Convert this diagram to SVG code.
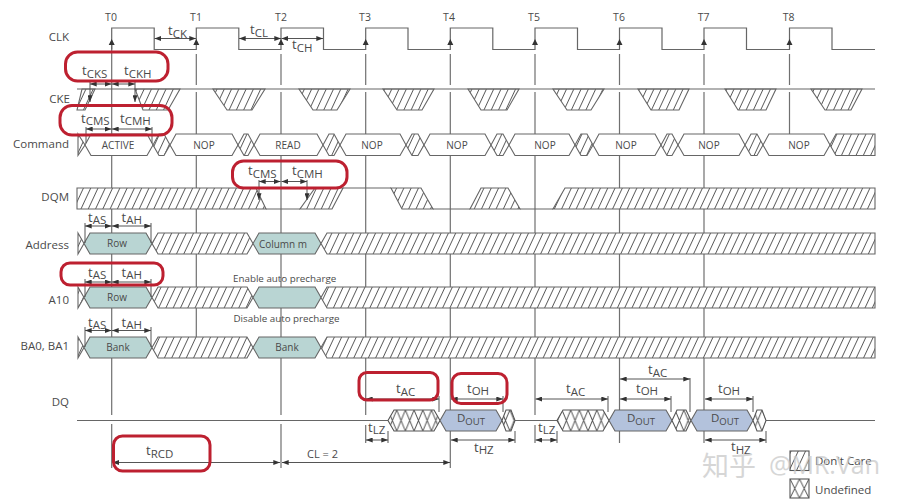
<svg xmlns="http://www.w3.org/2000/svg" width="906" height="501" viewBox="0 0 906 501">
<style>
text{font-family:"Open Sans","Noto Sans","Liberation Sans",sans-serif;fill:#4a4a4a}
.l{font-size:11.5px;text-anchor:end}
.c{font-size:10.5px;text-anchor:middle}
.h{font-size:10px;text-anchor:middle}
.n{font-size:9.8px}
.d{font-size:13px}
.s{font-size:11.5px}
.w{fill:none;stroke:#666;stroke-width:1.2}
.v{fill:none;stroke:#707070;stroke-width:1.2}
.a{fill:none;stroke:#555;stroke-width:1}
.x{fill:url(#hatch);stroke:#666;stroke-width:1.1}
.o{fill:#fff;stroke:#666;stroke-width:1.1}
.b{fill:#b9d5d3;stroke:#666;stroke-width:1.1}
.q{fill:#b3c2dc;stroke:#666;stroke-width:1.1}
.u{fill:url(#cross);stroke:#555;stroke-width:1.1}
.r{fill:none;stroke:#bd2030;stroke-width:3}
.k{fill:#333}
</style>
<defs>
<pattern id="hatch" patternUnits="userSpaceOnUse" width="6.6" height="10" patternTransform="rotate(25)"><rect width="6.6" height="10" fill="#fff"/><line x1="3.3" y1="0" x2="3.3" y2="10" stroke="#5c5c5c" stroke-width="1"/></pattern>
<pattern id="cross" patternUnits="userSpaceOnUse" width="8.7" height="21" patternTransform="translate(388 410)"><rect width="8.7" height="21" fill="#fff"/><path d="M0 0L8.7 21M8.7 0L0 21" stroke="#555" stroke-width="1" fill="none"/></pattern>
<pattern id="cross2" patternUnits="userSpaceOnUse" width="9.5" height="19" patternTransform="translate(790 479)"><rect width="9.5" height="19" fill="#fff"/><path d="M0 0L9.5 19M9.5 0L0 19" stroke="#555" stroke-width="1" fill="none"/></pattern>
<marker id="ae" viewBox="0 0 8 6" refX="8" refY="3" markerWidth="7" markerHeight="5" markerUnits="userSpaceOnUse" orient="auto"><path d="M0 0L8 3L0 6Z" fill="#333"/></marker>
<marker id="as" viewBox="0 0 8 6" refX="0" refY="3" markerWidth="7" markerHeight="5" markerUnits="userSpaceOnUse" orient="auto"><path d="M8 0L0 3L8 6Z" fill="#333"/></marker>
</defs>
<rect width="906" height="501" fill="#fff"/>

<g id="grid-lines">
<path class="v" d="M111.7 45V415M111.7 424V468"/>
<path class="v" d="M196.3 54V85M196.3 92V337"/>
<path class="v" d="M281 54V85M281 92V415M281 424V468"/>
<path class="v" d="M365.7 54V85M365.7 92V415M365.7 425V443"/>
<path class="v" d="M450.3 54V85M450.3 92V410M450.3 431V468"/>
<path class="v" d="M535 54V85M535 92V415M535 425V443"/>
<path class="v" d="M619.5 54V85M619.5 92V410M619.5 431V443"/>
<path class="v" d="M704 54V85M704 92V410M704 431V443"/>
<path class="v" d="M789.5 54V85M789.5 92V134"/>
</g>

<g id="time-labels">
<text class="c" x="111" y="21">T0</text><text class="c" x="196" y="21">T1</text><text class="c" x="281" y="21">T2</text><text class="c" x="365" y="21">T3</text><text class="c" x="449" y="21">T4</text><text class="c" x="534" y="21">T5</text><text class="c" x="619" y="21">T6</text><text class="c" x="703.7" y="21">T7</text><text class="c" x="788.6" y="21">T8</text>
</g>

<g id="clk">
<text class="l" x="69" y="41">CLK</text>
<path class="w" d="M111.7 49.5V28H154.2V49.5H196.3V28H238.8V49.5H281V28H323.5V49.5H365.7V28H408V49.5H450.3V28H492.8V49.5H535V28H577.5V49.5H619.5V28H662V49.5H704V28H746.5V49.5H789.5V28H832V49.5H875"/>
<path class="k" d="M111.7 39l3 6h-6zM196.3 39l3 6h-6zM281 39l3 6h-6zM365.7 39l3 6h-6zM450.3 39l3 6h-6zM535 39l3 6h-6zM619.5 39l3 6h-6zM704 39l3 6h-6zM789.5 39l3 6h-6z"/>
</g>

<g id="cke">
<text class="l" x="70" y="103">CKE</text>
<polygon class="x" points="82,89 95,89 85,110 77,110"/>
<polygon class="x" points="135,89 180,89 168,110 143,110"/>
<polygon class="x" points="213,89 265,89 252,110 227,110"/>
<polygon class="x" points="299,89 350,89 337,110 313,110"/>
<polygon class="x" points="383,89 434,89 422,110 397,110"/>
<polygon class="x" points="468,89 519,89 507,110 481,110"/>
<polygon class="x" points="553,89 604,89 591,110 567,110"/>
<polygon class="x" points="638,89 689,89 679,110 651,110"/>
<polygon class="x" points="725,89 776,89 766,110 738,110"/>
<polygon class="x" points="811,89 862,89 851,110 825,110"/>
<line class="w" x1="77" y1="89" x2="875" y2="89"/>
</g>

<g id="command">
<text class="l" x="69" y="148">Command</text>
<polygon class="x" points="78,134 85,145 78,155.5"/>
<polygon class="o" points="85,145 91,134 147,134 153,145 147,155.5 91,155.5"/>
<polygon class="x" points="153,145 159,134 164,134 170,145 164,155.5 159,155.5"/>
<polygon class="o" points="170,145 176,134 232,134 238,145 232,155.5 176,155.5"/>
<polygon class="x" points="238,145 244,134 248,134 254,145 248,155.5 244,155.5"/>
<polygon class="o" points="254,145 260,134 317,134 323,145 317,155.5 260,155.5"/>
<polygon class="x" points="323,145 329,134 334,134 340,145 334,155.5 329,155.5"/>
<polygon class="o" points="340,145 346,134 400,134 406,145 400,155.5 346,155.5"/>
<polygon class="x" points="406,145 412,134 418,134 424,145 418,155.5 412,155.5"/>
<polygon class="o" points="424,145 430,134 485,134 491,145 485,155.5 430,155.5"/>
<polygon class="x" points="491,145 497,134 503,134 509,145 503,155.5 497,155.5"/>
<polygon class="o" points="509,145 515,134 569,134 575,145 569,155.5 515,155.5"/>
<polygon class="x" points="575,145 581,134 587,134 593,145 587,155.5 581,155.5"/>
<polygon class="o" points="593,145 599,134 655,134 661,145 655,155.5 599,155.5"/>
<polygon class="x" points="661,145 667,134 672,134 678,145 672,155.5 667,155.5"/>
<polygon class="o" points="678,145 684,134 739,134 745,145 739,155.5 684,155.5"/>
<polygon class="x" points="745,145 751,134 757,134 763,145 757,155.5 751,155.5"/>
<polygon class="o" points="763,145 769,134 824,134 830,145 824,155.5 769,155.5"/>
<polygon class="x" points="830,145 836,134 875,134 875,155.5 836,155.5"/>
<text class="h" x="118" y="149">ACTIVE</text><text class="h" x="204" y="149">NOP</text><text class="h" x="288" y="149">READ</text><text class="h" x="372" y="149">NOP</text><text class="h" x="457" y="149">NOP</text><text class="h" x="545" y="149">NOP</text><text class="h" x="626" y="149">NOP</text><text class="h" x="709" y="149">NOP</text><text class="h" x="799" y="149">NOP</text>
</g>

<g id="dqm">
<text class="l" x="69" y="201">DQM</text>
<polygon class="x" points="77,188 256,188 266,209 77,209"/>
<polygon class="x" points="315,188 343,188 332,209 300,209"/>
<polygon class="x" points="391,188 421,188 433,209 402,209"/>
<polygon class="x" points="481,188 508,188 520,209 470,209"/>
<polygon class="x" points="565,188 875,188 875,209 553,209"/>
<path class="w" d="M343 188H391M266 209H300M433 209H470M520 209H553"/>
</g>

<g id="address">
<text class="l" x="69" y="249">Address</text>
<polygon class="x" points="78,233 84,243.5 78,254"/>
<polygon class="b" points="84,243.5 90,233 146,233 152,243.5 146,254 90,254"/>
<polygon class="x" points="152,243.5 158,233 247,233 253,243.5 247,254 158,254"/>
<polygon class="b" points="253,243.5 259,233 315,233 321,243.5 315,254 259,254"/>
<polygon class="x" points="321,243.5 327,233 875,233 875,254 327,254"/>
<text class="h" x="117" y="247">Row</text><text class="h" x="283" y="248">Column m</text>
</g>

<g id="a10">
<text class="l" x="69" y="304">A10</text>
<polygon class="x" points="78,287 84,297.5 78,308"/>
<polygon class="b" points="84,297.5 90,287 146,287 152,297.5 146,308 90,308"/>
<polygon class="x" points="152,297.5 158,287 247,287 253,297.5 247,308 158,308"/>
<polygon class="b" points="253,297.5 259,287 315,287 321,297.5 315,308 259,308"/>
<polygon class="x" points="321,297.5 327,287 875,287 875,308 327,308"/>
<text class="h" x="117" y="301">Row</text>
<text class="n" x="233" y="282">Enable auto precharge</text>
<text class="n" x="233.5" y="322">Disable auto precharge</text>
</g>

<g id="ba">
<text class="l" x="69" y="350">BA0, BA1</text>
<polygon class="x" points="78,337 84,347.5 78,358"/>
<polygon class="b" points="84,347.5 90,337 146,337 152,347.5 146,358 90,358"/>
<polygon class="x" points="152,347.5 158,337 247,337 253,347.5 247,358 158,358"/>
<polygon class="b" points="253,347.5 259,337 315,337 321,347.5 315,358 259,358"/>
<polygon class="x" points="321,347.5 327,337 875,337 875,358 327,358"/>
<text class="h" x="118" y="351">Bank</text><text class="h" x="287" y="351">Bank</text>
</g>

<g id="dq">
<text class="l" x="69" y="406">DQ</text>
<path class="w" d="M77 420.5H388M515 420.5H557M766 420.5H875"/>
<polygon class="u" points="388,420.5 394,410 434,410 440,420.5 434,431 394,431"/>
<polygon class="q" points="440,420.5 446,410 496,410 502,420.5 496,431 446,431"/>
<polygon class="u" points="502,420.5 506,410 511,410 515,420.5 511,431 506,431"/>
<polygon class="u" points="557,420.5 563,410 603,410 609,420.5 603,431 563,431"/>
<polygon class="q" points="609,420.5 615,410 666,410 672,420.5 666,431 615,431"/>
<polygon class="u" points="672,420.5 677,410 686,410 691,420.5 686,431 677,431"/>
<polygon class="q" points="691,420.5 697,410 747,410 753,420.5 747,431 697,431"/>
<polygon class="u" points="753,420.5 757,410 762,410 766,420.5 762,431 757,431"/>
<text x="457" y="422" font-size="11.5">D<tspan font-size="9.5" dy="2.5">OUT</tspan></text>
<text x="627" y="422" font-size="11.5">D<tspan font-size="9.5" dy="2.5">OUT</tspan></text>
<text x="711" y="422" font-size="11.5">D<tspan font-size="9.5" dy="2.5">OUT</tspan></text>
</g>

<g id="connectors">
<g class="a">
<path d="M154.5 38.5H196" marker-start="url(#as)" marker-end="url(#ae)"/>
<path d="M239 38.5H281" marker-start="url(#as)" marker-end="url(#ae)"/>
<path d="M281.5 38.5H323" marker-start="url(#as)" marker-end="url(#ae)"/>
<path d="M90 84H111.5" marker-start="url(#as)" marker-end="url(#ae)"/>
<path d="M112 84H135" marker-start="url(#as)" marker-end="url(#ae)"/>
<path d="M90 82V102" marker-end="url(#ae)"/>
<path d="M135 82V102" marker-end="url(#ae)"/>
<path d="M86 129H111.5" marker-start="url(#as)" marker-end="url(#ae)"/>
<path d="M112 129H152" marker-start="url(#as)" marker-end="url(#ae)"/>
<path d="M86 127V143M152 127V143"/>
<path d="M259 181.5H280.5" marker-start="url(#as)" marker-end="url(#ae)"/>
<path d="M281.5 181.5H307" marker-start="url(#as)" marker-end="url(#ae)"/>
<path d="M259 180V200" marker-end="url(#ae)"/>
<path d="M307 180V200" marker-end="url(#ae)"/>
<path d="M85 226H111.5" marker-start="url(#as)" marker-end="url(#ae)"/>
<path d="M112 226H151" marker-start="url(#as)" marker-end="url(#ae)"/>
<path d="M85 223V243M151 223V243"/>
<path d="M85 282H111.5" marker-start="url(#as)" marker-end="url(#ae)"/>
<path d="M112 282H151" marker-start="url(#as)" marker-end="url(#ae)"/>
<path d="M85 279V297M151 279V297"/>
<path d="M85 330.5H111.5" marker-start="url(#as)" marker-end="url(#ae)"/>
<path d="M112 330.5H151" marker-start="url(#as)" marker-end="url(#ae)"/>
<path d="M85 327V347M151 327V347"/>
<path d="M366 399H439" marker-start="url(#as)" marker-end="url(#ae)"/>
<path d="M439 396V412"/>
<path d="M451 399H503" marker-start="url(#as)" marker-end="url(#ae)"/>
<path d="M503 396V412"/>
<path d="M366 440H388" marker-start="url(#as)" marker-end="url(#ae)"/>
<path d="M388 431V443"/>
<path d="M451 440H515" marker-start="url(#as)" marker-end="url(#ae)"/>
<path d="M515 431V443"/>
<path d="M535.5 399H608" marker-start="url(#as)" marker-end="url(#ae)"/>
<path d="M608 396V412"/>
<path d="M535.5 440H557" marker-start="url(#as)" marker-end="url(#ae)"/>
<path d="M557 431V443"/>
<path d="M620 379H690" marker-start="url(#as)" marker-end="url(#ae)"/>
<path d="M690 378V412"/>
<path d="M620 399H671" marker-start="url(#as)" marker-end="url(#ae)"/>
<path d="M671 396V412"/>
<path d="M705 399H753" marker-start="url(#as)" marker-end="url(#ae)"/>
<path d="M753 396V412"/>
<path d="M705 440H766" marker-start="url(#as)" marker-end="url(#ae)"/>
<path d="M766 431V443"/>
<path d="M112.5 462.5H280" marker-start="url(#as)" marker-end="url(#ae)"/>
<path d="M282 462.5H450" marker-start="url(#as)" marker-end="url(#ae)"/>
</g>
</g>

<g id="timing-labels">
<text class="d" x="168" y="35">t<tspan class="s" dy="2.5">CK</tspan></text>
<text class="d" x="250" y="34">t<tspan class="s" dy="2.5">CL</tspan></text>
<text class="d" x="292" y="49">t<tspan class="s" dy="2.5">CH</tspan></text>
<text class="d" x="82" y="75">t<tspan class="s" dy="2.5">CKS</tspan></text>
<text class="d" x="124" y="75">t<tspan class="s" dy="2.5">CKH</tspan></text>
<text class="d" x="81" y="122.5">t<tspan class="s" dy="2.5">CMS</tspan></text>
<text class="d" x="120" y="122.5">t<tspan class="s" dy="2.5">CMH</tspan></text>
<text class="d" x="248" y="175">t<tspan class="s" dy="2.5">CMS</tspan></text>
<text class="d" x="292" y="175">t<tspan class="s" dy="2.5">CMH</tspan></text>
<text class="d" x="88" y="221.5">t<tspan class="s" dy="2.5">AS</tspan></text>
<text class="d" x="121.5" y="221.5">t<tspan class="s" dy="2.5">AH</tspan></text>
<text class="d" x="88" y="276.5">t<tspan class="s" dy="2.5">AS</tspan></text>
<text class="d" x="121.5" y="276.5">t<tspan class="s" dy="2.5">AH</tspan></text>
<text class="d" x="88" y="326.5">t<tspan class="s" dy="2.5">AS</tspan></text>
<text class="d" x="121.5" y="326.5">t<tspan class="s" dy="2.5">AH</tspan></text>
<text class="d" x="396" y="393">t<tspan class="s" dy="2.5">AC</tspan></text>
<text class="d" x="467" y="392.5">t<tspan class="s" dy="2.5">OH</tspan></text>
<text class="d" x="368" y="431.5">t<tspan class="s" dy="2.5">LZ</tspan></text>
<text class="d" x="474" y="451.5">t<tspan class="s" dy="2.5">HZ</tspan></text>
<text class="d" x="566" y="393">t<tspan class="s" dy="2.5">AC</tspan></text>
<text class="d" x="538" y="431.5">t<tspan class="s" dy="2.5">LZ</tspan></text>
<text class="d" x="648" y="374">t<tspan class="s" dy="2.5">AC</tspan></text>
<text class="d" x="636" y="392.5">t<tspan class="s" dy="2.5">OH</tspan></text>
<text class="d" x="718" y="392.5">t<tspan class="s" dy="2.5">OH</tspan></text>
<text class="d" x="731" y="451">t<tspan class="s" dy="2.5">HZ</tspan></text>
<text class="d" x="146" y="455">t<tspan class="s" dy="2.5">RCD</tspan></text>
<text x="307" y="458" font-size="11">CL = 2</text>
</g>

<g id="highlights">
<rect class="r" x="65.5" y="52" width="102.5" height="29" rx="12"/>
<rect class="r" x="60" y="105.5" width="112" height="29.5" rx="12"/>
<rect class="r" x="232.5" y="161" width="114.5" height="27" rx="11"/>
<rect class="r" x="61" y="263" width="102" height="22" rx="9"/>
<rect class="r" x="359" y="372.5" width="79" height="27.5" rx="8"/>
<rect class="r" x="452" y="373.5" width="55" height="30" rx="9"/>
<rect class="r" x="113.5" y="436" width="96.5" height="35" rx="9"/>
</g>

<g id="legend">
<rect x="790" y="451" width="19" height="19.5" fill="url(#hatch)" stroke="#555" stroke-width="1.1"/>
<text x="815" y="465" font-size="11.5">Don't Care</text>
<rect x="790" y="479" width="19" height="19" fill="url(#cross2)" stroke="#555" stroke-width="1.1"/>
<text x="815" y="494" font-size="11.5">Undefined</text>
</g>

<g id="watermark" opacity="0.75">
<text x="702" y="476" font-size="27" style="font-family:'Noto Sans CJK SC',sans-serif;fill:#c9c9c9">知乎</text>
<text x="769" y="474" font-size="25" style="fill:#c9c9c9">@MR.Van</text>
</g>
</svg>
